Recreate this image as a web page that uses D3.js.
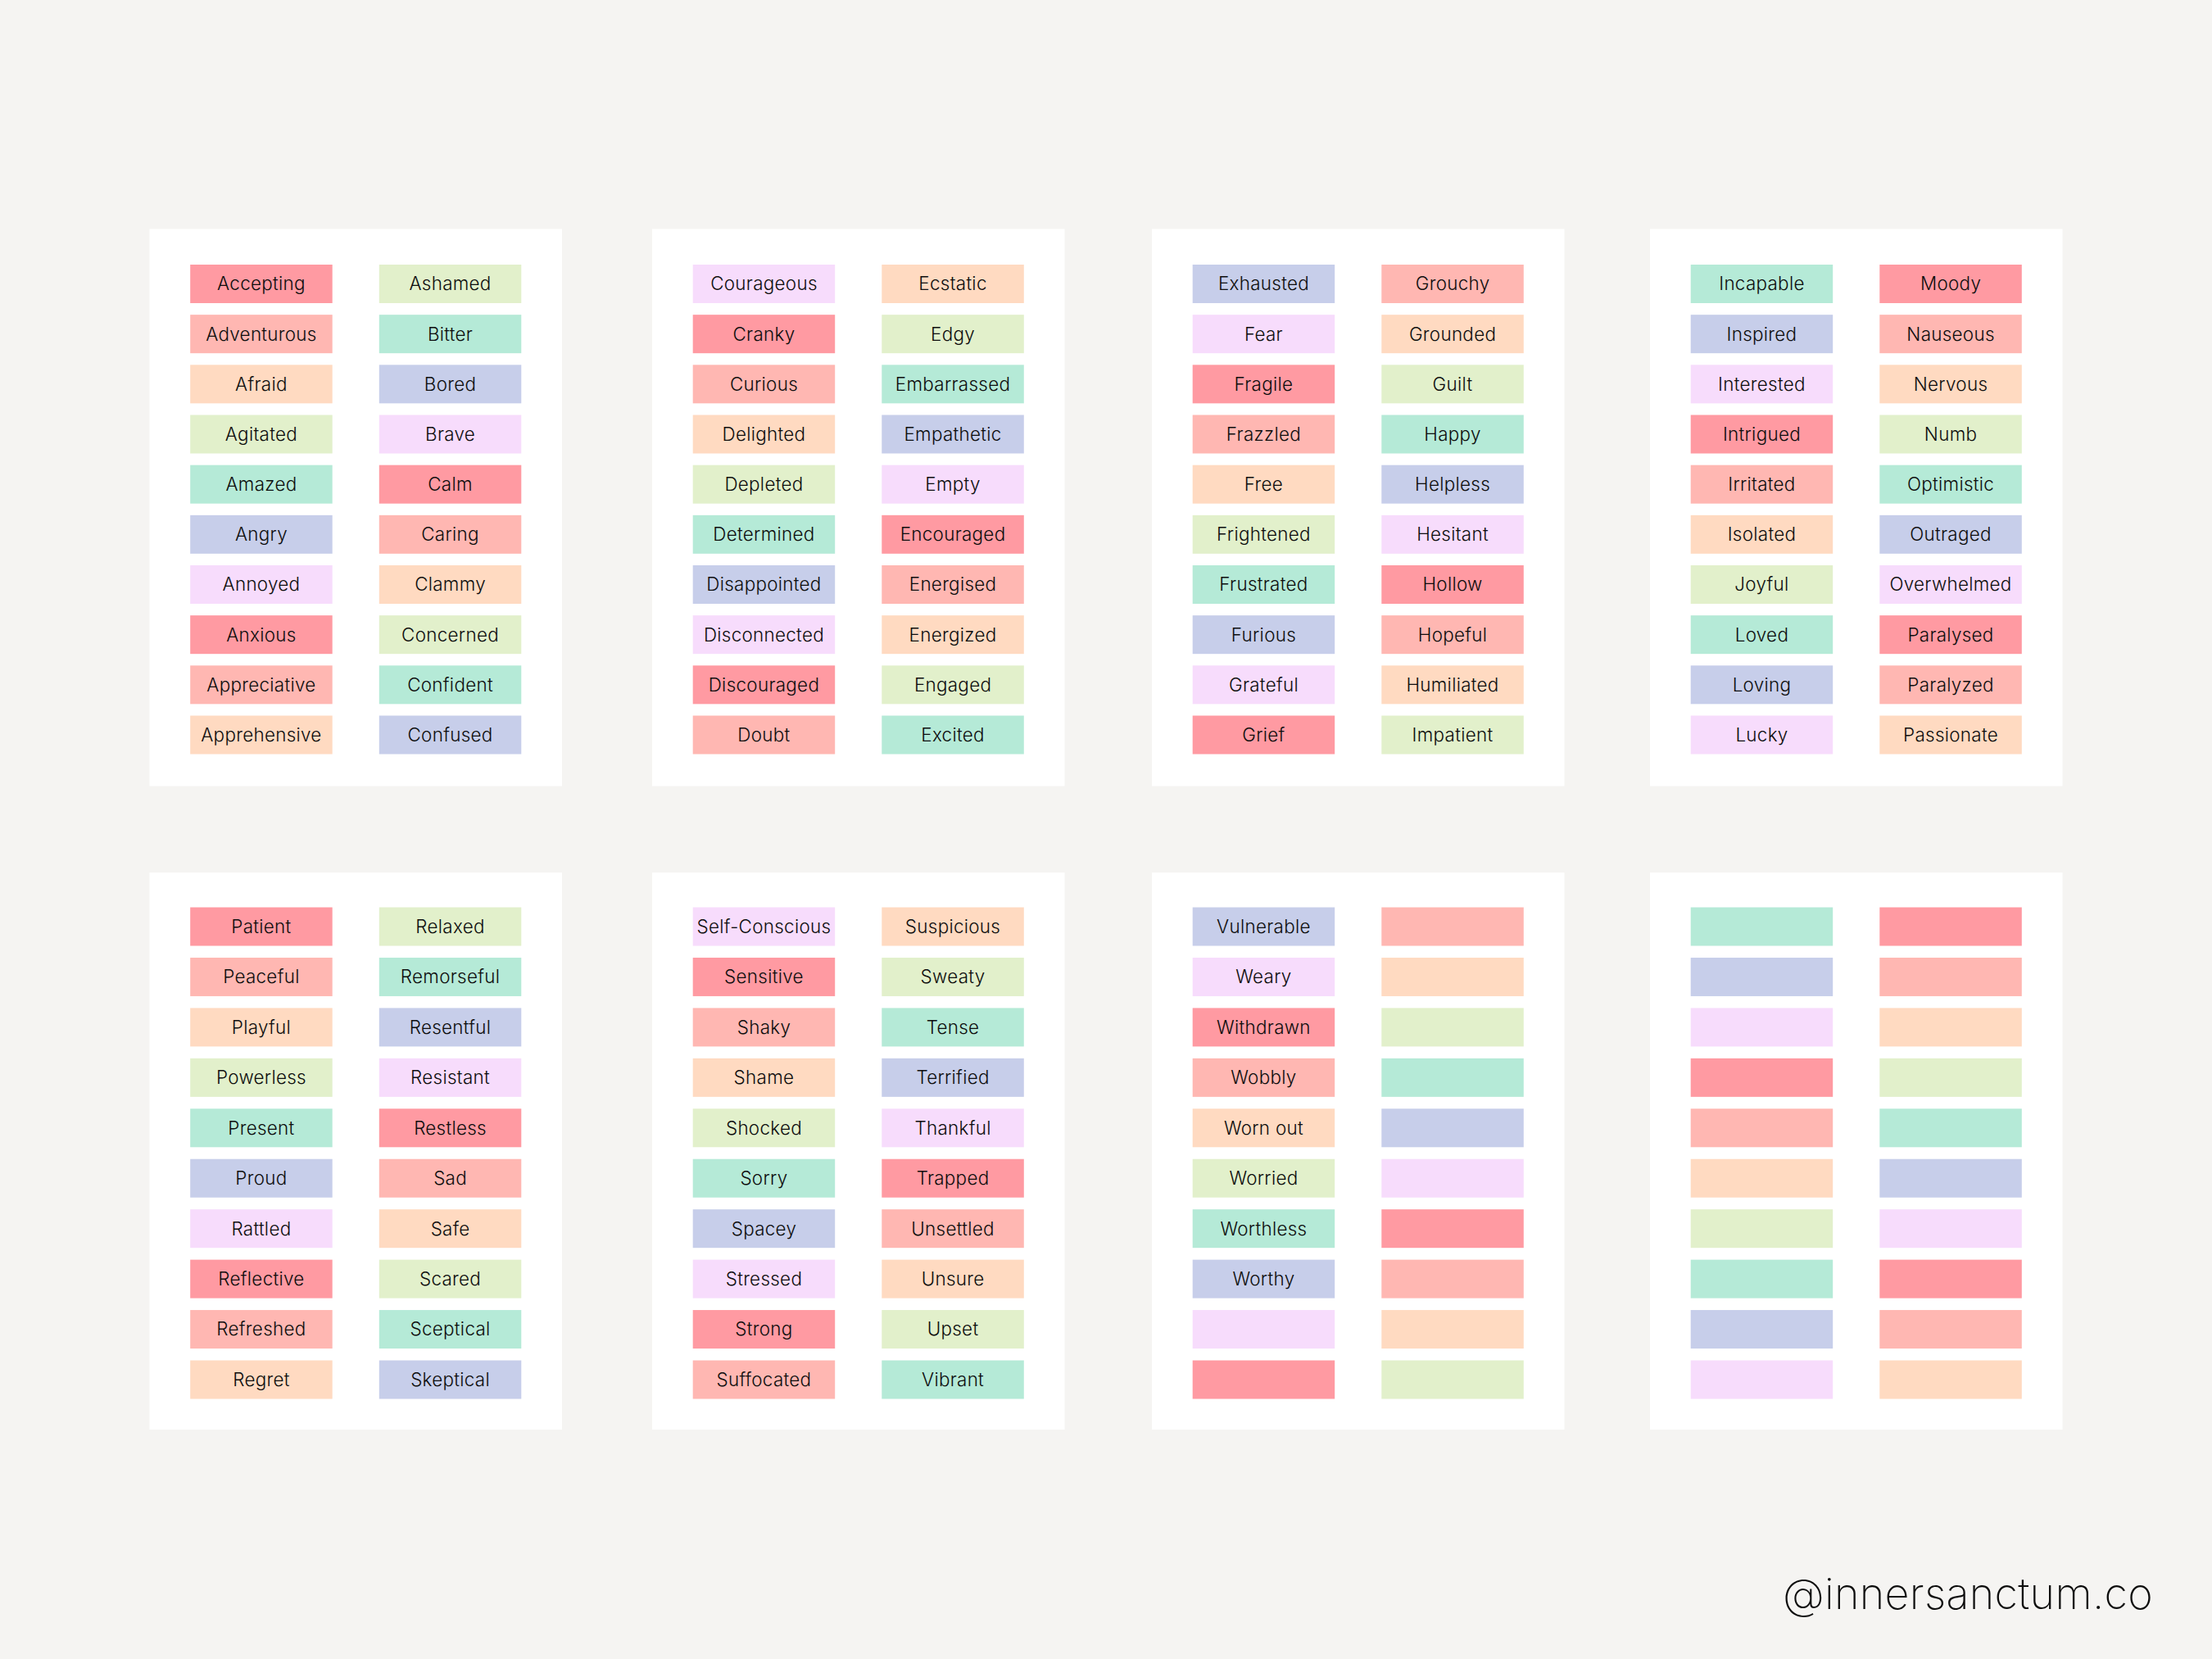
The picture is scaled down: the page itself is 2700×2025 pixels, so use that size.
<!DOCTYPE html>
<html>
<head>
<meta charset="utf-8">
<script src="https://cdn.jsdelivr.net/npm/d3@7"></script>
<style>
  html, body { margin: 0; padding: 0; background: #f5f4f2; }
  svg { display: block; }
  text { font-family: Inter, "Open Sans", sans-serif; font-weight: 270; fill: #0d0d0d; }
</style>
</head>
<body>
<div id="chart"></div>
<script>
// Words, read down each column, left to right. Two sheets of four cards.
var upperWords = [
  "Accepting", "Adventurous", "Afraid", "Agitated", "Amazed", "Angry", "Annoyed", "Anxious", "Appreciative", "Apprehensive",
  "Ashamed", "Bitter", "Bored", "Brave", "Calm", "Caring", "Clammy", "Concerned", "Confident", "Confused",
  "Courageous", "Cranky", "Curious", "Delighted", "Depleted", "Determined", "Disappointed", "Disconnected", "Discouraged", "Doubt",
  "Ecstatic", "Edgy", "Embarrassed", "Empathetic", "Empty", "Encouraged", "Energised", "Energized", "Engaged", "Excited",
  "Exhausted", "Fear", "Fragile", "Frazzled", "Free", "Frightened", "Frustrated", "Furious", "Grateful", "Grief",
  "Grouchy", "Grounded", "Guilt", "Happy", "Helpless", "Hesitant", "Hollow", "Hopeful", "Humiliated", "Impatient",
  "Incapable", "Inspired", "Interested", "Intrigued", "Irritated", "Isolated", "Joyful", "Loved", "Loving", "Lucky",
  "Moody", "Nauseous", "Nervous", "Numb", "Optimistic", "Outraged", "Overwhelmed", "Paralysed", "Paralyzed", "Passionate"
];

var lowerWords = [
  "Patient", "Peaceful", "Playful", "Powerless", "Present", "Proud", "Rattled", "Reflective", "Refreshed", "Regret",
  "Relaxed", "Remorseful", "Resentful", "Resistant", "Restless", "Sad", "Safe", "Scared", "Sceptical", "Skeptical",
  "Self-Conscious", "Sensitive", "Shaky", "Shame", "Shocked", "Sorry", "Spacey", "Stressed", "Strong", "Suffocated",
  "Suspicious", "Sweaty", "Tense", "Terrified", "Thankful", "Trapped", "Unsettled", "Unsure", "Upset", "Vibrant",
  "Vulnerable", "Weary", "Withdrawn", "Wobbly", "Worn out", "Worried", "Worthless", "Worthy", "", "",
  "", "", "", "", "", "", "", "", "", "",
  "", "", "", "", "", "", "", "", "", "",
  "", "", "", "", "", "", "", "", "", ""
];

var swatches = ["#ff9aa2", "#ffb7b2", "#ffdac1", "#e2f0cb", "#b5ead7", "#c7ceea", "#f7dcfc"];
var handle = "@innersanctum.co";

var width = 2700, height = 2025;
var cardW = 503.5, cardH = 680;
var tagW = 173.5, tagH = 47;
var rowsPerColumn = 10;

var svg = d3.select("#chart")
  .append("svg")
  .attr("width", width)
  .attr("height", height);

svg.append("rect")
  .attr("width", width)
  .attr("height", height)
  .attr("fill", "#f5f4f2");

var cardX = d3.scaleOrdinal()
  .domain([0, 1, 2, 3])
  .range([182.5, 796, 1406, 2014]);

var colX = d3.scaleOrdinal()
  .domain([0, 1])
  .range([49.7, 280.3]);

var sheets = [
  { words: upperWords, top: 279.5, rows: d3.scalePoint().domain(d3.range(rowsPerColumn)).range([346.5, 897]) },
  { words: lowerWords, top: 1065, rows: d3.scalePoint().domain(d3.range(rowsPerColumn)).range([1131, 1684]) }
];

var colour = d3.scaleOrdinal()
  .domain(d3.range(swatches.length))
  .range(swatches);

sheets.forEach(function(sheet) {
  var tags = sheet.words.map(function(word, i) {
    var col = Math.floor(i / rowsPerColumn);
    return {
      word: word,
      index: i,
      card: Math.floor(col / 2),
      col: col % 2,
      row: i % rowsPerColumn
    };
  });

  svg.append("g")
    .attr("class", "cards")
    .selectAll("rect")
    .data(d3.range(4))
    .enter()
    .append("rect")
    .attr("x", d => cardX(d))
    .attr("y", sheet.top)
    .attr("width", cardW)
    .attr("height", cardH)
    .attr("fill", "white");

  var tag = svg.append("g")
    .attr("class", "tags")
    .selectAll("g")
    .data(tags)
    .enter()
    .append("g")
    .attr("transform", d => `translate(${cardX(d.card) + colX(d.col)},${sheet.rows(d.row)})`);

  tag.append("rect")
    .attr("y", -tagH / 2)
    .attr("width", tagW)
    .attr("height", tagH)
    .attr("fill", d => colour(d.index % swatches.length));

  tag.append("text")
    .attr("x", tagW / 2)
    .attr("dy", "0.35em")
    .attr("text-anchor", "middle")
    .style("font-size", "22.4px")
    .style("letter-spacing", "0.3px")
    .text(d => d.word);
});

svg.append("text")
  .attr("x", 2176)
  .attr("y", 1964)
  .style("font-size", "52px")
  .style("font-weight", 200)
  .style("letter-spacing", "0.3px")
  .text(handle);
</script>
</body>
</html>
